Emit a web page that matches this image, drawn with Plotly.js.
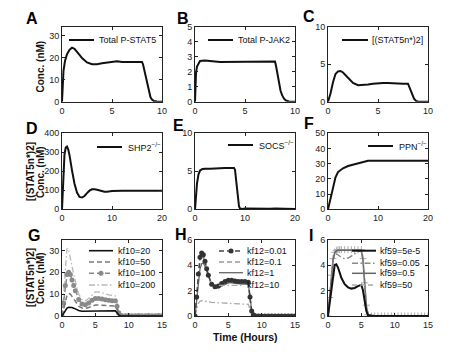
<!DOCTYPE html>
<html><head><meta charset="utf-8">
<script src="https://cdn.plot.ly/plotly-3.0.1.min.js"></script>
<style>html,body{margin:0;padding:0;background:#fff}#chart{width:474px;height:356px}</style>
</head><body><div id="chart"></div>
<script>
// ---------- data ----------
const aT = [0,0.05,0.15,0.3,0.5,0.75,1,1.25,1.5,1.75,2,2.5,3,3.5,4,4.5,5,5.5,6,6.5,7,7.5,8,8.1,8.25,8.4,8.55,8.7,8.85,9,9.2,9.5,10];
const aPSTAT5 = [0,8,14,18.5,21.5,23.5,24.5,24,22.8,21.2,19.8,17.8,17,17,17.4,17.8,18,18.3,18,18,18,18,18,17,14,10,6.5,3.8,2,1,0.3,0.05,0];

const bT = [0,0.03,0.1,0.2,0.35,0.5,1,1.5,2,2.5,3,3.5,4,5,6,7,8,8.1,8.25,8.4,8.55,8.7,8.9,9.1,9.4,10];
const bPJAK2 = [0,1.2,1.9,2.35,2.6,2.72,2.75,2.74,2.68,2.64,2.64,2.67,2.68,2.68,2.68,2.68,2.68,2.4,1.8,1.2,0.75,0.45,0.2,0.08,0.02,0];

const cT = [0,0.25,0.5,0.75,1,1.25,1.5,1.75,2,2.5,3,3.5,4,4.5,5,5.5,6,6.5,7,7.5,8,8.2,8.4,8.6,8.8,9,10];
const cSTAT5n = [0,1.1,2.6,3.7,4.05,4.1,3.9,3.55,3.15,2.5,2.2,2.2,2.3,2.4,2.5,2.5,2.5,2.45,2.4,2.4,2.4,1.8,1.0,0.4,0.1,0.02,0];

const dT = [0,0.1,0.25,0.5,0.75,1,1.25,1.5,2,2.5,3,3.5,4,4.5,5,5.5,6,6.5,7,7.5,8,8.5,9,9.5,10,12,15,20];
const dSHP2 = [0,80,190,290,325,330,315,285,205,135,88,65,62,70,85,98,105,106,103,98,94,92,92,94,96,97,97,97];

const eT = [0,0.2,0.4,0.7,1,1.5,2,3,4,5,6,7,7.8,8,8.2,8.4,8.6,8.8,9,9.5,10,11,12,12.5,13,14,15,16,17,18,19,20];
const eSOCS = [0,1.8,3.4,4.6,5.1,5.3,5.35,5.35,5.4,5.45,5.45,5.45,5.45,5.2,4.0,2.5,1.2,0.4,0.1,0.05,0.1,0.08,0.12,0.05,0.1,0.08,0.06,0.12,0.12,0.1,0.06,0.05];

const fT = [0,0.5,1,1.5,2,2.5,3,4,5,6,7,7.7,8,10,15,20];
const fPPN = [0,7,15,21,24.5,26,27,28.5,29.5,30.5,31.5,32,32,32,32,32];

const ghT = [0,0.25,0.5,0.75,1,1.25,1.5,1.75,2,2.5,3,3.5,4,4.5,5,5.5,6,6.5,7,7.5,8,8.25,8.5,8.75,9,9.5,10,10.5,11,11.5,12,12.5,13,13.5,14,14.5,15];
const gKf10_20  = [0,1.2,2.5,3.6,4.0,4.1,3.9,3.6,3.2, 2.5,2.2,2.2,2.3,2.4,2.5,2.5,2.5,2.4,2.4,2.4,2.4, 1.5,0.5,0.1, 0.02,0,0,0,0,0,0,0,0,0,0,0,0];
const gKf10_50  = [0,3,7,9.5,10.3,10,9,7.8,6.5, 4.5,3.6,3.5,3.9,4.5,5,5,4.9,4.7,4.6,4.5,4.5, 3,1,0.2, 0.05,0,0,0,0,0,0,0,0,0,0,0,0];
const gKf10_100 = [0,6,14,19,20,19,16.5,14,11.5, 7.5,5.5,5.2,6,7.2,8,8,7.8,7.4,7.2,7,7, 4.5,1.5,0.4, 0.1,0.1,0.2,0.1,0.1,0.2,0.1,0.1,0.2,0.1,0.1,0.2,0.1];
const gKf10_200 = [0,10,24,31,30,27,23,19,15.5, 10,7.5,7,8,9.5,11,11,10.5,10,9.7,9.4,9.2, 6,2,0.5, 0.1,0,0,0,0,0,0,0,0,0,0,0,0];

const hKf12_001 = [0,1.5,3.3,4.6,4.95,4.8,4.3,3.7,3.2, 2.5,2.3,2.35,2.55,2.7,2.8,2.8,2.75,2.7,2.7,2.7,2.65, 1.5,0.4,0.1, 0.02,0,0,0,0,0,0,0,0,0,0,0,0];
const hKf12_01  = [0,1.4,3.2,4.45,4.8,4.65,4.2,3.6,3.1, 2.45,2.25,2.3,2.5,2.65,2.75,2.75,2.7,2.65,2.65,2.65,2.6, 1.45,0.4,0.1, 0.02,0,0,0,0,0,0,0,0,0,0,0,0];
const hKf12_1   = [0,1.1,2.6,3.7,4.1,4.15,3.9,3.5,3.1, 2.45,2.2,2.2,2.35,2.5,2.6,2.6,2.55,2.5,2.5,2.5,2.5, 1.4,0.35,0.08, 0.01,0,0,0,0,0,0,0,0,0,0,0,0];
const hKf12_10  = [0,0.6,1.0,1.15,1.2,1.18,1.15,1.13,1.1, 1.07,1.05,1.03,1.02,1.0,0.99,0.98,0.96,0.95,0.94,0.93,0.92, 0.5,0.15,0.04, 0.01,0,0,0,0,0,0,0,0,0,0,0,0];

const iT = [0,0.25,0.5,0.75,1,1.25,1.5,1.75,2,2.5,3,3.5,4,4.5,5,5.25,5.5,5.75,6,6.5,7,7.5,8,8.5,9,9.5,10,10.5,11,11.5,12,12.5,13,13.5,14,14.5,15];
const iKf59_5e5 = [0,1.0,2.3,3.4,4.0,4.05,3.8,3.4,3.0, 2.5,2.25,2.15,2.2,2.35,2.45, 2.0,1.1,0.4, 0.05,0,0,0,0,0,0,0,0,0,0,0,0,0,0,0,0,0,0];
const iKf59_005 = [0,1.3,2.9,4.2,4.75,4.85,4.8,4.7,4.6, 4.5,4.55,4.7,4.9,5.05,5.1, 4.3,2.4,0.8, 0.1,0,0,0,0,0,0,0,0,0,0,0,0,0,0,0,0,0,0];
const iKf59_05  = [0,1.4,3.1,4.4,4.95,5.1,5.15,5.15,5.15, 5.15,5.15,5.15,5.15,5.15,5.15, 4.4,2.5,0.8, 0.1,0,0,0,0,0,0,0,0,0,0,0,0,0,0,0,0,0,0];
const iKf59_50  = [0,1.45,3.2,4.5,5.0,5.15,5.2,5.2,5.2, 5.2,5.2,5.2,5.2,5.2,5.2, 4.5,2.6,0.85, 0.1,0,0,0,0,0,0,0,0,0,0,0,0,0,0,0,0,0,0];

const panelLetters = ['A','B','C','D','E','F','G','H','I'];
const ticks10 = [0,5,10], ticks20 = [0,10,20], ticks15 = [0,5,10,15];
const yTicksA = [0,10,20,30], yTicksB = [0,1,2,3,4,5], yTicks0510 = [0,5,10];
const yTicksD = [0,100,200,300,400], yTicksF = [0,10,20,30,40,50], yTicksG = [0,10,20,30], yTicks6 = [0,2,4,6];

// ---------- layout helpers ----------
const W = 474, H = 356;
const px = v => v / W, py = v => 1 - v / H;
const cols = [[62,162],[195,295],[328,428]];
const rows = [[26.7,101.7],[133.3,209.3],[239.5,316]];
const FONT = 'Liberation Sans, Arial, Helvetica, sans-serif';

const axisSpec = [
  {xr:[0,10], xt:ticks10, yr:[0,34], yt:yTicksA},
  {xr:[0,10], xt:ticks10, yr:[0,5], yt:yTicksB},
  {xr:[0,10], xt:ticks10, yr:[0,10], yt:yTicks0510},
  {xr:[0,20], xt:ticks20, yr:[0,400], yt:yTicksD},
  {xr:[0,20], xt:ticks20, yr:[0,10], yt:yTicks0510},
  {xr:[0,20], xt:ticks20, yr:[0,50], yt:yTicksF},
  {xr:[0,15], xt:ticks15, yr:[0,35], yt:yTicksG},
  {xr:[0,15], xt:ticks15, yr:[0,6], yt:yTicks6},
  {xr:[0,15], xt:ticks15, yr:[0,6], yt:yTicks6}
];

const layout = {
  width: W, height: H, autosize: false,
  margin: {l:0, r:0, t:0, b:0},
  paper_bgcolor: '#fff', plot_bgcolor: '#fff',
  showlegend: false,
  font: {family: FONT, size: 9, color: '#222'},
  annotations: [], shapes: []
};

const baseAxis = {
  showline: true, linecolor: '#222', linewidth: 1, mirror: 'ticks',
  ticks: 'inside', ticklen: 3, tickwidth: 1, tickcolor: '#222',
  showgrid: false, zeroline: false, fixedrange: true,
  tickfont: {family: FONT, size: 9, color: '#222'}, tickmode: 'array'
};

axisSpec.forEach((s, i) => {
  const r = Math.floor(i / 3), c = i % 3, n = i + 1;
  const xk = n === 1 ? 'xaxis' : 'xaxis' + n, yk = n === 1 ? 'yaxis' : 'yaxis' + n;
  layout[xk] = Object.assign({}, baseAxis, {
    domain: [px(cols[c][0]), px(cols[c][1])], range: s.xr, tickvals: s.xt,
    anchor: n === 1 ? 'y' : 'y' + n
  });
  layout[yk] = Object.assign({}, baseAxis, {
    domain: [py(rows[r][1]), py(rows[r][0])], range: s.yr, tickvals: s.yt,
    anchor: n === 1 ? 'x' : 'x' + n
  });
});

const ax = n => ({xaxis: n === 1 ? 'x' : 'x' + n, yaxis: n === 1 ? 'y' : 'y' + n});
const DASH = '5px,3px', DASHDOT = '6px,2.5px,1.5px,2.5px';

const traces = [
  Object.assign({x: aT, y: aPSTAT5, name: 'Total P-STAT5', mode: 'lines', line: {color: '#111', width: 2}}, ax(1)),
  Object.assign({x: bT, y: bPJAK2, name: 'Total P-JAK2', mode: 'lines', line: {color: '#111', width: 2}}, ax(2)),
  Object.assign({x: cT, y: cSTAT5n, name: '[(STAT5n*)2]', mode: 'lines', line: {color: '#111', width: 2}}, ax(3)),
  Object.assign({x: dT, y: dSHP2, name: 'SHP2-/-', mode: 'lines', line: {color: '#111', width: 2}}, ax(4)),
  Object.assign({x: eT, y: eSOCS, name: 'SOCS-/-', mode: 'lines', line: {color: '#111', width: 2}}, ax(5)),
  Object.assign({x: fT, y: fPPN, name: 'PPN-/-', mode: 'lines', line: {color: '#111', width: 2}}, ax(6)),

  Object.assign({x: ghT, y: gKf10_200, name: 'kf10=200', mode: 'lines', line: {color: '#b8b8b8', width: 1.3, dash: DASHDOT}}, ax(7)),
  Object.assign({x: ghT, y: gKf10_100, name: 'kf10=100', mode: 'lines+markers', line: {color: '#8a8a8a', width: 1.5, dash: DASH}, marker: {symbol: 'circle', size: 5, color: '#8a8a8a'}}, ax(7)),
  Object.assign({x: ghT, y: gKf10_50, name: 'kf10=50', mode: 'lines', line: {color: '#777', width: 1.5, dash: DASH}}, ax(7)),
  Object.assign({x: ghT, y: gKf10_20, name: 'kf10=20', mode: 'lines', line: {color: '#111', width: 1.6}}, ax(7)),

  Object.assign({x: ghT, y: hKf12_10, name: 'kf12=10', mode: 'lines', line: {color: '#aaa', width: 1.3, dash: DASHDOT}}, ax(8)),
  Object.assign({x: ghT, y: hKf12_1, name: 'kf12=1', mode: 'lines', line: {color: '#666', width: 1.3}}, ax(8)),
  Object.assign({x: ghT, y: hKf12_01, name: 'kf12=0.1', mode: 'lines', line: {color: '#999', width: 1.5, dash: DASH}}, ax(8)),
  Object.assign({x: ghT, y: hKf12_001, name: 'kf12=0.01', mode: 'lines+markers', line: {color: '#444', width: 1.5, dash: DASH}, marker: {symbol: 'circle', size: 5, color: '#333'}}, ax(8)),

  Object.assign({x: iT, y: iKf59_50, name: 'kf59=50', mode: 'lines+markers', line: {color: '#aaa', width: 1.3, dash: DASH}, marker: {symbol: 'cross-thin-open', size: 5, line: {color: '#777', width: 1}}}, ax(9)),
  Object.assign({x: iT, y: iKf59_05, name: 'kf59=0.5', mode: 'lines', line: {color: '#666', width: 1.5}}, ax(9)),
  Object.assign({x: iT, y: iKf59_005, name: 'kf59=0.05', mode: 'lines', line: {color: '#888', width: 1.4, dash: DASHDOT}}, ax(9)),
  Object.assign({x: iT, y: iKf59_5e5, name: 'kf59=5e-5', mode: 'lines', line: {color: '#111', width: 2}}, ax(9))
];

// ---------- text & legend keys ----------
const A = layout.annotations, S = layout.shapes;
function txt(x, y, text, opts) {
  A.push(Object.assign({xref: 'paper', yref: 'paper', x: px(x), y: py(y), text: text, showarrow: false,
    xanchor: 'left', yanchor: 'middle', font: {family: FONT, size: 9, color: '#111'}}, opts || {}));
}
function key(x0, x1, y, line, marker) {
  S.push({type: 'line', xref: 'paper', yref: 'paper', x0: px(x0), x1: px(x1), y0: py(y), y1: py(y), line: line});
  if (marker) {
    S.push({type: 'circle', xref: 'paper', yref: 'paper', xsizemode: 'pixel', ysizemode: 'pixel',
      xanchor: px((x0 + x1) / 2), yanchor: py(y), x0: -2.5, x1: 2.5, y0: -2.5, y1: 2.5,
      fillcolor: marker, line: {color: marker, width: 0}});
  }
}

// panel letters
const letterPos = [[32,19],[183,19],[309,17],[32,128],[178,126],[309,124],[34,236],[181,234],[311,236]];
panelLetters.forEach((L, i) => txt(letterPos[i][0], letterPos[i][1], '<b>' + L + '</b>',
  {xanchor: 'center', font: {family: FONT, size: 16, color: '#000'}}));

// axis titles
const tFont = {family: FONT, size: 10, color: '#111'};
txt(40, 66.5, '<b>Conc. (nM)</b>', {xanchor: 'center', textangle: -90, font: tFont});
txt(30, 172, '<b>[(STAT5n*)2]</b>', {xanchor: 'center', textangle: -90, font: tFont});
txt(40, 172, '<b>Conc. (nM)</b>', {xanchor: 'center', textangle: -90, font: tFont});
txt(30, 278, '<b>[(STAT5n*)2]</b>', {xanchor: 'center', textangle: -90, font: tFont});
txt(40, 278, '<b>Conc. (nM)</b>', {xanchor: 'center', textangle: -90, font: tFont});
txt(245.5, 337, '<b>Time (Hours)</b>', {xanchor: 'center', font: {family: FONT, size: 10.5, color: '#111'}});

// legends A-F
const blk = {color: '#111', width: 2};
key(69, 94, 40, blk);   txt(97, 40, 'Total P-STAT5');
key(208, 233, 40, blk); txt(236, 40, 'Total P-JAK2');
key(342, 368, 40, blk); txt(370, 40, '[(STAT5n*)2]');
key(97, 122, 147, blk); txt(126, 147, 'SHP2<sup>−/−</sup>');
key(228, 253, 145, blk); txt(257, 145, 'SOCS<sup>−/−</sup>');
key(368, 393, 146, blk); txt(397, 146, 'PPN<sup>−/−</sup>', {font: {family: FONT, size: 9, color: '#111'}});

// legend G
const gY = [250.7, 262, 273.3, 285];
key(89, 113, gY[0], {color: '#111', width: 1.6}); txt(116, gY[0], 'kf10=20');
key(89, 113, gY[1], {color: '#777', width: 1.5, dash: DASH}); txt(116, gY[1], 'kf10=50');
key(89, 113, gY[2], {color: '#8a8a8a', width: 1.5, dash: DASH}, '#8a8a8a'); txt(116, gY[2], 'kf10=100');
key(89, 113, gY[3], {color: '#b8b8b8', width: 1.3, dash: DASHDOT}); txt(116, gY[3], 'kf10=200');

// legend H
const hY = [251, 262, 272.7, 285.3];
key(219, 243, hY[0], {color: '#444', width: 1.5, dash: DASH}, '#333'); txt(245, hY[0], 'kf12=0.01');
key(219, 243, hY[1], {color: '#999', width: 1.5, dash: DASH}); txt(245, hY[1], 'kf12=0.1');
key(219, 243, hY[2], {color: '#666', width: 1.3}); txt(245, hY[2], 'kf12=1');
key(219, 243, hY[3], {color: '#aaa', width: 1.3, dash: DASHDOT}); txt(245, hY[3], 'kf12=10');

// legend I
const iY = [250.7, 263.3, 273.3, 285];
key(352, 376, iY[0], {color: '#111', width: 2}); txt(378, iY[0], 'kf59=5e-5');
key(352, 376, iY[1], {color: '#888', width: 1.4, dash: DASHDOT}); txt(378, iY[1], 'kf59=0.05');
key(352, 376, iY[2], {color: '#666', width: 1.5}); txt(378, iY[2], 'kf59=0.5');
key(352, 376, iY[3], {color: '#aaa', width: 1.3, dash: DASH}); txt(378, iY[3], 'kf59=50');

Plotly.newPlot('chart', traces, layout, {staticPlot: true, displayModeBar: false});
</script></body></html>
